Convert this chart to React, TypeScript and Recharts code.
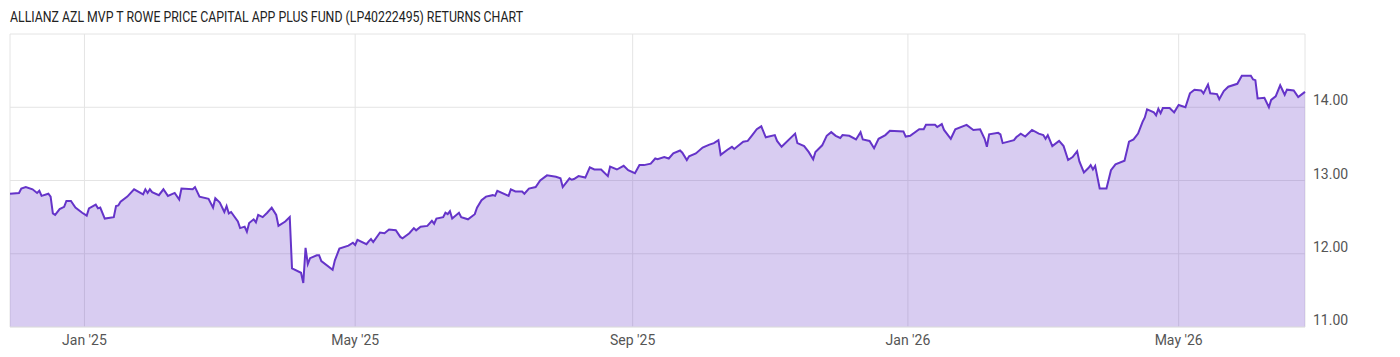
import React from 'react'
import { AreaChart, Area, XAxis, YAxis, CartesianGrid } from 'recharts'

// closing prices
const dates = [
  '2024-11-29', '2024-12-03', '2024-12-04', '2024-12-06', '2024-12-09', '2024-12-11', '2024-12-12', '2024-12-13',
  '2024-12-16', '2024-12-17', '2024-12-18', '2024-12-19', '2024-12-21', '2024-12-23', '2024-12-24', '2024-12-26',
  '2024-12-28', '2024-12-31', '2025-01-02', '2025-01-03', '2025-01-06', '2025-01-07', '2025-01-08', '2025-01-10',
  '2025-01-14', '2025-01-15', '2025-01-16', '2025-01-17', '2025-01-20', '2025-01-23', '2025-01-27', '2025-01-28',
  '2025-01-29', '2025-01-30', '2025-01-31', '2025-02-03', '2025-02-05', '2025-02-07', '2025-02-10', '2025-02-12',
  '2025-02-13', '2025-02-18', '2025-02-19', '2025-02-21', '2025-02-25', '2025-02-27', '2025-02-28', '2025-03-02',
  '2025-03-04', '2025-03-05', '2025-03-06', '2025-03-07', '2025-03-10', '2025-03-11', '2025-03-13', '2025-03-14',
  '2025-03-15', '2025-03-17', '2025-03-18', '2025-03-19', '2025-03-21', '2025-03-23', '2025-03-25', '2025-03-27',
  '2025-03-28', '2025-03-31', '2025-04-02', '2025-04-03', '2025-04-07', '2025-04-08', '2025-04-09', '2025-04-10',
  '2025-04-11', '2025-04-14', '2025-04-15', '2025-04-16', '2025-04-21', '2025-04-22', '2025-04-24', '2025-04-28',
  '2025-04-30', '2025-05-01', '2025-05-02', '2025-05-06', '2025-05-07', '2025-05-08', '2025-05-09', '2025-05-12',
  '2025-05-14', '2025-05-16', '2025-05-19', '2025-05-21', '2025-05-22', '2025-05-25', '2025-05-27', '2025-05-28',
  '2025-05-30', '2025-06-02', '2025-06-04', '2025-06-05', '2025-06-06', '2025-06-09', '2025-06-10', '2025-06-11',
  '2025-06-12', '2025-06-13', '2025-06-16', '2025-06-17', '2025-06-20', '2025-06-23', '2025-06-24', '2025-06-26',
  '2025-06-28', '2025-07-01', '2025-07-02', '2025-07-03', '2025-07-08', '2025-07-09', '2025-07-11', '2025-07-14',
  '2025-07-15', '2025-07-17', '2025-07-20', '2025-07-22', '2025-07-25', '2025-07-29', '2025-07-31', '2025-08-01',
  '2025-08-04', '2025-08-05', '2025-08-06', '2025-08-08', '2025-08-11', '2025-08-13', '2025-08-15', '2025-08-18',
  '2025-08-21', '2025-08-22', '2025-08-25', '2025-08-28', '2025-08-30', '2025-09-02', '2025-09-04', '2025-09-06',
  '2025-09-09', '2025-09-11', '2025-09-12', '2025-09-15', '2025-09-17', '2025-09-19', '2025-09-22', '2025-09-23',
  '2025-09-25', '2025-09-26', '2025-09-29', '2025-10-02', '2025-10-05', '2025-10-07', '2025-10-09', '2025-10-10',
  '2025-10-13', '2025-10-15', '2025-10-16', '2025-10-20', '2025-10-22', '2025-10-24', '2025-10-26', '2025-10-28',
  '2025-10-30', '2025-11-03', '2025-11-04', '2025-11-06', '2025-11-12', '2025-11-13', '2025-11-16', '2025-11-18',
  '2025-11-20', '2025-11-21', '2025-11-24', '2025-11-26', '2025-11-28', '2025-11-30', '2025-12-02', '2025-12-03',
  '2025-12-06', '2025-12-09', '2025-12-11', '2025-12-12', '2025-12-15', '2025-12-17', '2025-12-19', '2025-12-22',
  '2025-12-24', '2025-12-30', '2025-12-31', '2026-01-02', '2026-01-06', '2026-01-08', '2026-01-09', '2026-01-13',
  '2026-01-14', '2026-01-16', '2026-01-17', '2026-01-20', '2026-01-22', '2026-01-27', '2026-01-30', '2026-02-02',
  '2026-02-04', '2026-02-05', '2026-02-06', '2026-02-10', '2026-02-11', '2026-02-12', '2026-02-17', '2026-02-18',
  '2026-02-20', '2026-02-22', '2026-02-25', '2026-02-28', '2026-03-02', '2026-03-03', '2026-03-04', '2026-03-06',
  '2026-03-09', '2026-03-11', '2026-03-13', '2026-03-15', '2026-03-17', '2026-03-18', '2026-03-20', '2026-03-22',
  '2026-03-23', '2026-03-24', '2026-03-25', '2026-03-27', '2026-03-30', '2026-04-01', '2026-04-03', '2026-04-07',
  '2026-04-09', '2026-04-11', '2026-04-13', '2026-04-15', '2026-04-16', '2026-04-17', '2026-04-20', '2026-04-21',
  '2026-04-22', '2026-04-23', '2026-04-24', '2026-04-27', '2026-04-29', '2026-05-01', '2026-05-04', '2026-05-06',
  '2026-05-08', '2026-05-11', '2026-05-12', '2026-05-14', '2026-05-15', '2026-05-18', '2026-05-19', '2026-05-21',
  '2026-05-23', '2026-05-27', '2026-05-29', '2026-06-02', '2026-06-03', '2026-06-04', '2026-06-05', '2026-06-08',
  '2026-06-10', '2026-06-11', '2026-06-13', '2026-06-15', '2026-06-17', '2026-06-18', '2026-06-21', '2026-06-23',
  '2026-06-26',
]

const prices = [
  12.82, 12.83, 12.89, 12.91, 12.88, 12.83, 12.86, 12.79,
  12.82, 12.78, 12.55, 12.53, 12.61, 12.64, 12.72, 12.72,
  12.63, 12.56, 12.52, 12.62, 12.67, 12.62, 12.63, 12.48,
  12.50, 12.65, 12.66, 12.71, 12.78, 12.88, 12.81, 12.88,
  12.83, 12.88, 12.84, 12.80, 12.88, 12.79, 12.83, 12.74,
  12.89, 12.88, 12.91, 12.78, 12.75, 12.63, 12.76, 12.70,
  12.57, 12.65, 12.55, 12.57, 12.44, 12.35, 12.37, 12.30,
  12.42, 12.47, 12.43, 12.53, 12.50, 12.56, 12.63, 12.53,
  12.38, 12.44, 12.50, 11.80, 11.74, 11.60, 12.08, 11.86,
  11.94, 11.98, 11.98, 11.90, 11.78, 11.91, 12.07, 12.11,
  12.15, 12.12, 12.19, 12.13, 12.17, 12.20, 12.16, 12.29,
  12.28, 12.33, 12.32, 12.23, 12.21, 12.28, 12.35, 12.32,
  12.37, 12.38, 12.45, 12.41, 12.48, 12.50, 12.56, 12.54,
  12.58, 12.48, 12.56, 12.50, 12.47, 12.54, 12.63, 12.73,
  12.78, 12.80, 12.79, 12.86, 12.79, 12.88, 12.85, 12.85,
  12.82, 12.89, 12.91, 13.00, 13.07, 13.05, 13.03, 12.91,
  13.03, 13.01, 13.02, 13.06, 13.04, 13.18, 13.15, 13.15,
  13.06, 13.19, 13.15, 13.20, 13.14, 13.10, 13.21, 13.21,
  13.23, 13.30, 13.29, 13.32, 13.30, 13.37, 13.41, 13.38,
  13.28, 13.33, 13.37, 13.45, 13.49, 13.51, 13.55, 13.35,
  13.42, 13.46, 13.43, 13.53, 13.54, 13.62, 13.70, 13.74,
  13.59, 13.62, 13.54, 13.46, 13.64, 13.51, 13.47, 13.39,
  13.29, 13.39, 13.48, 13.61, 13.66, 13.61, 13.58, 13.62,
  13.61, 13.56, 13.66, 13.56, 13.54, 13.44, 13.57, 13.62,
  13.68, 13.67, 13.60, 13.61, 13.70, 13.70, 13.76, 13.76,
  13.73, 13.77, 13.69, 13.57, 13.70, 13.76, 13.69, 13.70,
  13.57, 13.46, 13.63, 13.65, 13.63, 13.51, 13.55, 13.59,
  13.64, 13.60, 13.69, 13.64, 13.62, 13.57, 13.62, 13.47,
  13.54, 13.47, 13.28, 13.32, 13.40, 13.26, 13.11, 13.17,
  13.21, 13.15, 13.20, 12.89, 12.89, 13.14, 13.22, 13.27,
  13.53, 13.56, 13.64, 13.80, 13.86, 13.97, 13.93, 13.89,
  13.98, 13.92, 13.99, 13.99, 13.93, 14.03, 14.00, 14.19,
  14.24, 14.23, 14.19, 14.31, 14.19, 14.18, 14.11, 14.22,
  14.28, 14.32, 14.43, 14.43, 14.38, 14.37, 14.12, 14.13,
  14.00, 14.10, 14.15, 14.30, 14.17, 14.24, 14.23, 14.14,
  14.21,
]

const monthTicks = ['2025-01-01', '2025-05-01', '2025-09-01', '2026-01-01', '2026-05-01']
const yTicks = [11, 12, 13, 14, 15]

const MONTHS = ['Jan', 'Feb', 'Mar', 'Apr', 'May', 'Jun', 'Jul', 'Aug', 'Sep', 'Oct', 'Nov', 'Dec']
const toTime = (d: string) => Date.parse(d + 'T00:00:00Z')

const data = dates.map((d, i) => ({ t: toTime(d), price: prices[i] }))
const firstT = data[0].t
const lastT = data[data.length - 1].t
const monthTimes = monthTicks.map(toTime)
// edges are in the tick list so the grid draws the frame sides
const xTicks = [firstT, ...monthTimes, lastT]

const formatMonth = (t: number) => {
  const d = new Date(t)
  return `${MONTHS[d.getUTCMonth()]} '${String(d.getUTCFullYear()).slice(2)}`
}

const XTick = (props: any) => {
  const { x, y, payload } = props
  if (!monthTimes.includes(payload.value)) return null
  return (
    <text x={x} y={y + 10} textAnchor="middle" fill="#555" fontSize={14} fontFamily="Roboto">
      {formatMonth(payload.value)}
    </text>
  )
}

const YTick = (props: any) => {
  const { x, y, payload } = props
  if (payload.value === 15) return null
  return (
    <text x={x} y={y - 2} textAnchor="start" fill="#555" fontSize={14} fontFamily="Roboto">
      {payload.value.toFixed(2)}
    </text>
  )
}

export default function App() {
  return (
    <div style={{ position: 'relative', width: 1384, height: 349, fontFamily: 'Roboto' }}>
      <svg width={600} height={24} style={{ position: 'absolute', left: 0, top: 0 }}>
        <text x={2} y={14} fontSize={14} fill="#222" fontFamily="Roboto" textLength={513} lengthAdjust="spacingAndGlyphs">
          ALLIANZ AZL MVP T ROWE PRICE CAPITAL APP PLUS FUND (LP40222495) RETURNS CHART
        </text>
      </svg>
      <AreaChart width={1384} height={349} data={data} margin={{ top: 26, right: 27, bottom: 8, left: 2 }}>
        <CartesianGrid stroke="#e4e4e4" strokeWidth={1} />
        <XAxis
          dataKey="t"
          type="number"
          scale="time"
          domain={[firstT, lastT]}
          ticks={xTicks}
          interval={0}
          height={22}
          tick={<XTick />}
          tickLine={false}
          axisLine={{ stroke: '#e4e4e4' }}
        />
        <YAxis
          orientation="right"
          domain={[11, 15]}
          ticks={yTicks}
          interval={0}
          width={60}
          tick={<YTick />}
          tickLine={false}
          axisLine={false}
        />
        <Area
          type="linear"
          dataKey="price"
          stroke="#6534c9"
          strokeWidth={2}
          fill="#6534c9"
          fillOpacity={0.25}
          dot={false}
          activeDot={false}
          isAnimationActive={false}
        />
      </AreaChart>
    </div>
  )
}
